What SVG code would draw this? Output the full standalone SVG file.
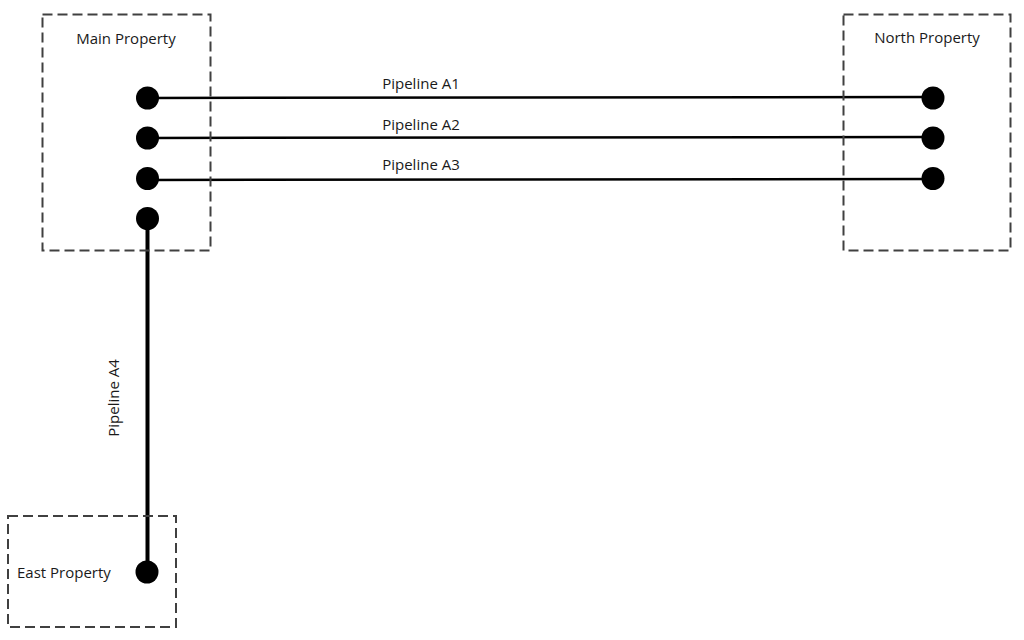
<svg xmlns="http://www.w3.org/2000/svg" width="1024" height="640" viewBox="0 0 1024 640">
<style>
.box{fill:none;stroke:#404040;stroke-width:2;stroke-dasharray:10,5}
.lbl{font-family:"Open Sans","Liberation Sans",sans-serif;font-size:15px;fill:#1a1a1a}
.pipe{stroke:#000;stroke-width:2.5;fill:none}
.pipev{stroke:#000;stroke-width:4;fill:none}
.dot{fill:#000}
</style>
<rect width="1024" height="640" fill="#fff"/>
<g id="connectors">
<line class="pipe" x1="147" y1="98" x2="933" y2="97"/>
<line class="pipe" x1="147" y1="138" x2="933" y2="137"/>
<line class="pipe" x1="147" y1="180" x2="933" y2="179"/>
<line class="pipev" x1="147.5" y1="218" x2="147.5" y2="572"/>
<text class="lbl" x="421" y="89" text-anchor="middle">Pipeline A1</text>
<text class="lbl" x="421" y="130" text-anchor="middle">Pipeline A2</text>
<text class="lbl" x="421" y="170" text-anchor="middle">Pipeline A3</text>
<text class="lbl" transform="translate(119,398) rotate(-90)" text-anchor="middle">Pipeline A4</text>
</g>
<g id="main-property">
<rect class="box" x="42.5" y="14.5" width="168" height="236"/>
<text class="lbl" x="126" y="44" text-anchor="middle">Main Property</text>
<circle class="dot" cx="147.5" cy="98" r="11.5"/>
<circle class="dot" cx="147.5" cy="138" r="11.5"/>
<circle class="dot" cx="147.5" cy="178.5" r="11.5"/>
<circle class="dot" cx="147.5" cy="218.5" r="11.5"/>
</g>
<g id="north-property">
<rect class="box" x="843.5" y="14.5" width="167" height="236"/>
<text class="lbl" x="927" y="43" text-anchor="middle">North Property</text>
<circle class="dot" cx="933" cy="98" r="11.5"/>
<circle class="dot" cx="933" cy="138" r="11.5"/>
<circle class="dot" cx="933" cy="178.5" r="11.5"/>
</g>
<g id="east-property">
<rect class="box" x="8" y="516" width="168" height="111"/>
<text class="lbl" x="17" y="578">East Property</text>
<circle class="dot" cx="147" cy="572" r="11.5"/>
</g>
</svg>
